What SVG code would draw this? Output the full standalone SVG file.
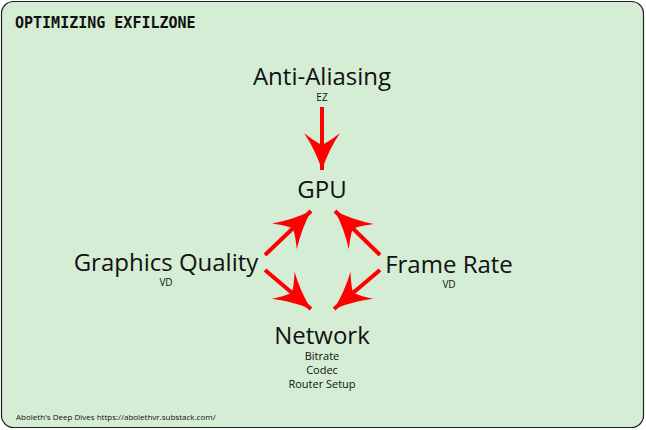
<svg xmlns="http://www.w3.org/2000/svg" width="646" height="430" viewBox="0 0 646 430">
<style>
.n{font-family:"Open Sans",sans-serif;fill:#111;text-anchor:middle}
.big{font-size:24px}
.sm{font-size:11px}
.c{stroke:#ff0000;stroke-width:4;fill:none}
</style>
<defs>
<marker id="a" markerUnits="userSpaceOnUse" markerWidth="40" markerHeight="40" viewBox="-34 -17 36 34" refX="0" refY="0" orient="auto">
<path d="M0,0 Q-18,-6 -33,-16 Q-23,-3 -23,0 Q-23,3 -33,16 Q-18,6 0,0 Z" fill="#ff0000"/>
</marker>
</defs>
<rect x="1.5" y="1.5" width="642" height="426" rx="12" fill="#d4edd4" stroke="#222" stroke-width="1.2"/>
<text x="15" y="28" style="font-family:'DejaVu Sans Mono',monospace;font-weight:bold;font-size:15px;fill:#111">OPTIMIZING EXFILZONE</text>
<g id="connectors">
<line class="c" x1="322" y1="107" x2="322" y2="170" marker-end="url(#a)"/>
<line class="c" x1="265" y1="255" x2="311" y2="211" marker-end="url(#a)"/>
<line class="c" x1="265" y1="270" x2="311" y2="309" marker-end="url(#a)"/>
<line class="c" x1="380" y1="255" x2="335" y2="211" marker-end="url(#a)"/>
<line class="c" x1="380" y1="270" x2="334" y2="309" marker-end="url(#a)"/>
</g>
<g id="aa"><text class="n big" x="322" y="85">Anti-Aliasing</text><text class="n sm" x="322" y="101" style="font-size:10px">EZ</text></g>
<g id="gpu"><text class="n big" x="322" y="198">GPU</text></g>
<g id="gq"><text class="n big" x="166" y="271">Graphics Quality</text><text class="n sm" x="166" y="286" style="font-size:10px">VD</text></g>
<g id="fr"><text class="n big" x="449" y="273">Frame Rate</text><text class="n sm" x="449" y="288" style="font-size:10px">VD</text></g>
<g id="net"><text class="n big" x="322" y="344">Network</text><text class="n sm" x="322" y="360">Bitrate</text><text class="n sm" x="322" y="374">Codec</text><text class="n sm" x="322" y="388">Router Setup</text></g>
<text x="16" y="420" style="font-family:'Open Sans',sans-serif;font-size:8px;fill:#111">Aboleth's Deep Dives https://abolethvr.substack.com/</text>
</svg>
